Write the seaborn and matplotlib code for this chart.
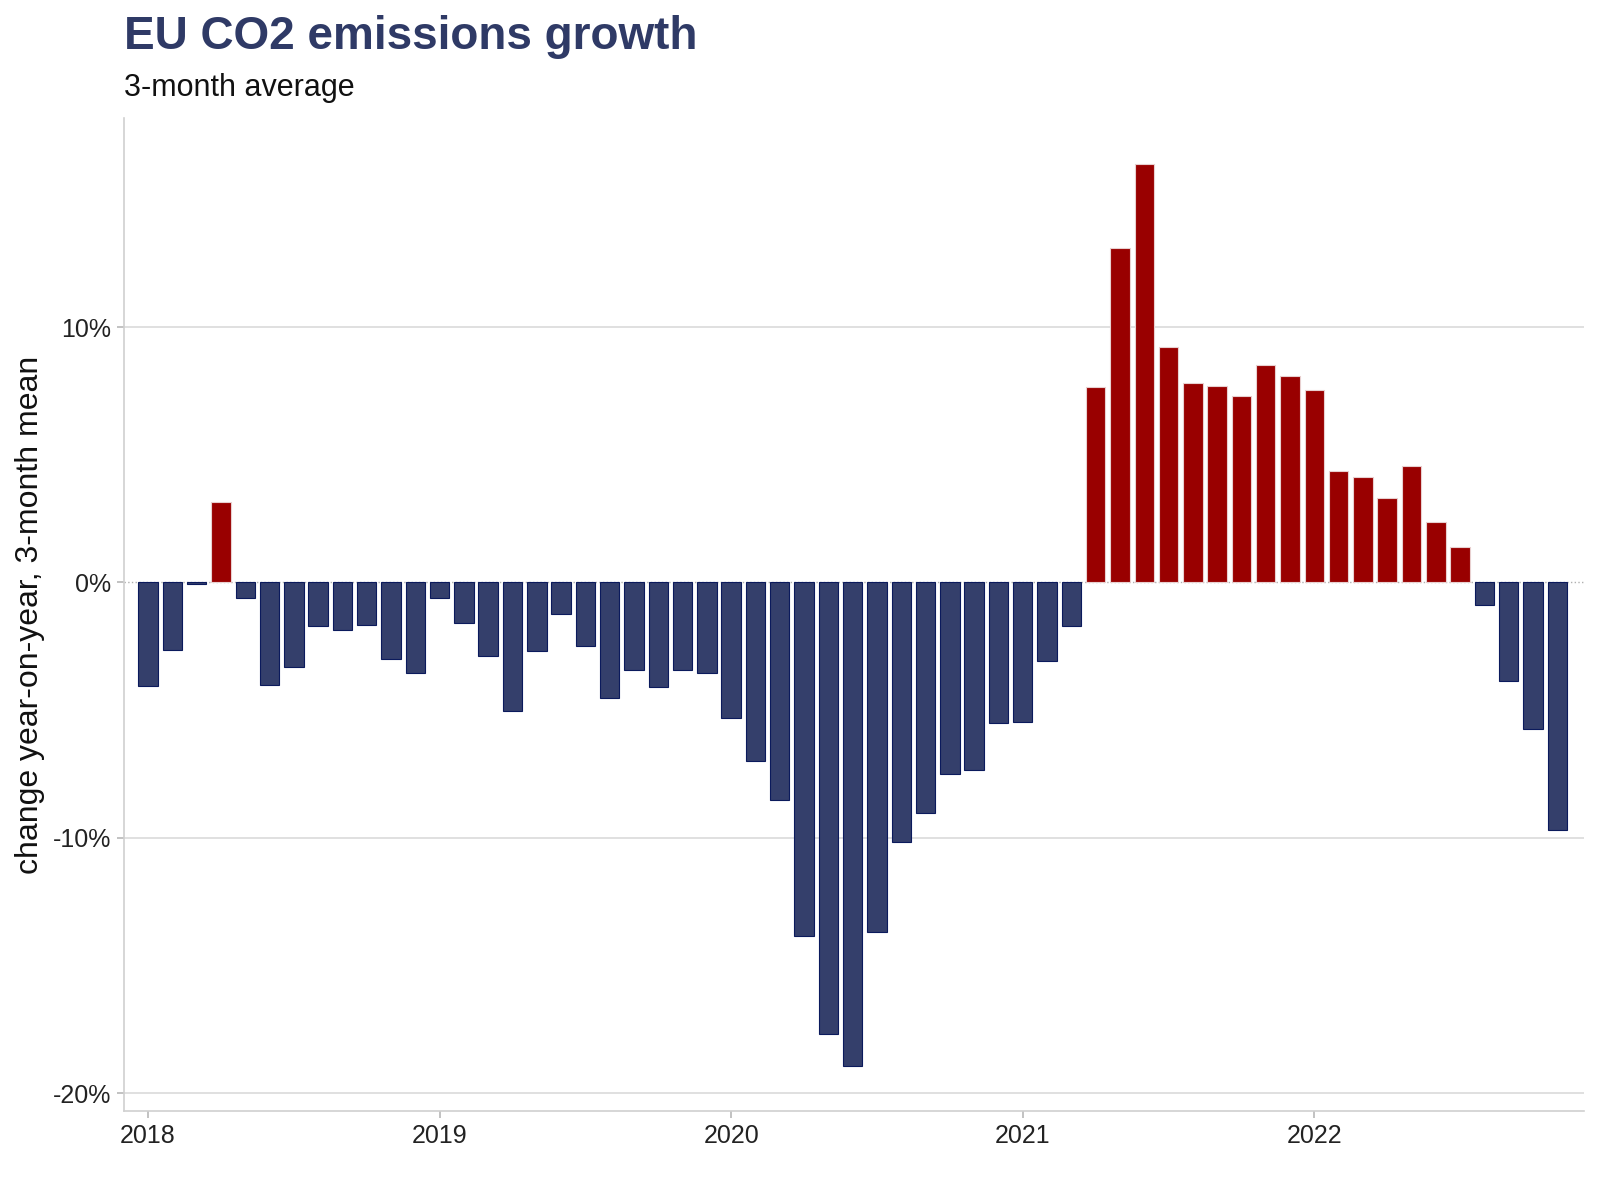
import matplotlib
matplotlib.use("Agg")
import matplotlib.pyplot as plt
import seaborn as sns
import pandas as pd
import numpy as np
from matplotlib.ticker import FuncFormatter

# ---- data (year-on-year change, 3-month mean, %) Jan 2018 - Nov 2022 ----
months = pd.date_range("2018-01-01", "2022-11-01", freq="MS").strftime("%Y-%m").tolist()
values = [
    -4.04, -2.63, -0.05, 3.16, -0.59, -4.00, -3.29, -1.72, -1.88, -1.67, -2.98, -3.53,   # 2018
    -0.61, -1.57, -2.87, -5.04, -2.70, -1.24, -2.48, -4.51, -3.42, -4.10, -3.44, -3.53,  # 2019
    -5.32, -6.99, -8.52, -13.84, -17.67, -18.94, -13.70, -10.16, -9.02, -7.49, -7.36, -5.49,  # 2020
    -5.46, -3.06, -1.72, 7.64, 13.10, 16.40, 9.23, 7.82, 7.71, 7.30, 8.51, 8.08,         # 2021
    7.53, 4.37, 4.11, 3.32, 4.56, 2.37, 1.38, -0.90, -3.84, -5.73, -9.68,                # 2022
]
year_labels = ["2018", "2019", "2020", "2021", "2022"]
year_ticks = ["2018-01", "2019-01", "2020-01", "2021-01", "2022-01"]

df = pd.DataFrame({"month": months, "value": values})
df["sign"] = np.where(df["value"] >= 0, "up", "down")

BLUE = "#343f6b"
RED = "#990000"
TITLE_C = "#2f3a66"

sns.set_theme(style="white")
plt.rcParams["font.family"] = ["Liberation Sans", "DejaVu Sans"]

fig = plt.figure(figsize=(16, 12), dpi=100)
ax = fig.add_axes([0.0775, 0.074, 0.9125, 0.828])

sns.barplot(data=df, x="month", y="value", hue="sign", order=months,
            palette={"up": RED, "down": BLUE}, dodge=False, legend=False,
            width=0.8, saturation=1, ax=ax, zorder=3)

for p in ax.patches:
    h = p.get_height()
    if h < 0:
        p.set_edgecolor("#0b1a5c")
    else:
        p.set_edgecolor("#e8d0d0")
    p.set_linewidth(0.8)

ax.set_ylim(-20.7, 18.2)
ax.set_xlim(-0.99, 59.1)
ax.set_yticks([-20, -10, 0, 10])
ax.yaxis.set_major_formatter(FuncFormatter(lambda v, _: f"{v:.0f}%"))
ax.set_xticks([months.index(m) for m in year_ticks])
ax.set_xticklabels(year_labels)

for y in [-20, -10, 10]:
    ax.axhline(y, color="#dadada", lw=1.2, zorder=0)
ax.axhline(0, color="#b0b0b0", lw=1.0, ls=":", zorder=1)

for s in ["top", "right"]:
    ax.spines[s].set_visible(False)
for s in ["left", "bottom"]:
    ax.spines[s].set_color("#d0d0d0")
    ax.spines[s].set_linewidth(1.2)

ax.tick_params(axis="both", which="major", length=5, width=1.2, color="#b8b8b8",
               labelsize=18, labelcolor="#222222", pad=4)
ax.tick_params(axis="x", bottom=True)
ax.tick_params(axis="y", left=True)

ax.set_xlabel("")
ax.set_ylabel("change year-on-year, 3-month mean", fontsize=23, color="#111111", labelpad=6)

fig.text(0.0775, 0.959, "EU CO2 emissions growth", fontsize=33, fontweight="bold",
         color=TITLE_C, ha="left", va="baseline")
fig.text(0.0775, 0.920, "3-month average", fontsize=22, color="#111111",
         ha="left", va="baseline")

fig.savefig("out.png", dpi=100, facecolor="white")
